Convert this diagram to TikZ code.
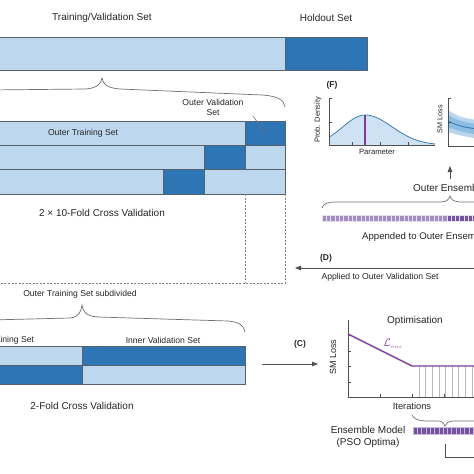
\documentclass[tikz,border=0pt]{standalone}
\usepackage{fontspec}
\setmainfont{Liberation Sans}
\usetikzlibrary{arrows.meta}
\definecolor{lightb}{HTML}{BDD7EE}
\definecolor{darkb}{HTML}{2E75B6}
\definecolor{edgec}{HTML}{56616C}
\definecolor{purp}{HTML}{7E3C98}
\definecolor{purbar}{HTML}{A18BC2}
\definecolor{purdark}{HTML}{7553A3}
\definecolor{bracec}{HTML}{707070}
\definecolor{curveb}{HTML}{3C7DB3}
\definecolor{fillb}{HTML}{CFE2F3}
\definecolor{bandout}{HTML}{B9D6EE}
\definecolor{bandin}{HTML}{8DBDE3}
\definecolor{axisc}{HTML}{505050}
\definecolor{txtc}{HTML}{262626}
\tikzset{
  cell/.style={draw=edgec, line width=1pt},
  lt/.style={cell, fill=lightb},
  dk/.style={cell, fill=darkb},
  bracepath/.style={draw=bracec, line width=0.7pt},
  axis/.style={draw=axisc, line width=0.7pt},
  dotline/.style={draw=gray, line width=0.7pt, dash pattern=on 2pt off 1.5pt},
  conn/.style={draw=axisc, line width=0.8pt, -{Triangle[length=6pt,width=4.5pt]}},
  lbl/.style={inner sep=0pt, text=txtc, font=\fontsize{10}{12}\selectfont},
  sml/.style={inner sep=0pt, text=txtc, font=\fontsize{8.6}{10}\selectfont},
  tag/.style={inner sep=0pt, text=txtc, font=\bfseries\fontsize{8.5}{10}\selectfont}
}
\begin{document}
\begin{tikzpicture}[x=1pt,y=-1pt]
\useasboundingbox (0,0) rectangle (474,474);
\clip (0,0) rectangle (474,474);
\fill[white] (0,0) rectangle (474,474);

% ---------- top bar ----------
\node[lbl] (tvs) at (102,18) {Training/Validation Set};
\node[lbl] (hos) at (326,18) {Holdout Set};
\path[lt] (-10,37) rectangle (285,70);
\path[dk] (285,37) rectangle (367,70);

% brace under top bar
\path[bracepath] (-10,90) -- (86,89) .. controls (97,88) and (101,84) .. (102,78)
  .. controls (103,84) and (107,88) .. (120,89) -- (262,95)
  .. controls (278,96) and (284,100) .. (285,107);

% ---------- 2 x 10 fold ----------
\node[sml, align=center] (ovs) at (213,107) {Outer Validation\\Set};
\path[lt] (-10,121) rectangle (245,145);
\path[dk] (245,121) rectangle (285,145);
\path[lt] (-10,145) rectangle (204,169);
\path[dk] (204,145) rectangle (245,169);
\path[lt] (245,145) rectangle (285,169);
\path[lt] (-10,169) rectangle (163,194);
\path[dk] (163,169) rectangle (204,194);
\path[lt] (204,169) rectangle (285,194);
\coordinate (ovbox) at (265,133);
\draw[bracec, line width=0.6pt] (253,116) -- (ovbox);
\node[sml] (ots) at (83,133) {Outer Training Set};
\node[lbl] (tenfold) at (102,213) {2 × 10-Fold Cross Validation};

% dashed outline
\draw[dotline] (245,194) -- (245,283);
\draw[dotline] (285,194) -- (285,283) -- (-10,283);

% ---------- inner 2-fold ----------
\node[sml] (otss) at (80,294) {Outer Training Set subdivided};
\path[bracepath] (-10,320) -- (70,318) .. controls (79,317) and (81,312) .. (82,305)
  .. controls (83,312) and (86,316) .. (98,317) -- (228,321)
  .. controls (240,322) and (244,326) .. (245,332);
\node[sml] (its) at (0,340) {Inner Training Set};
\node[sml] (ivs) at (163,340) {Inner Validation Set};
\path[lt] (-10,346) rectangle (82,365);
\path[dk] (82,346) rectangle (245,365);
\path[dk] (-10,365) rectangle (82,384);
\path[lt] (82,365) rectangle (245,384);
\node[lbl] (twofold) at (82,406) {2-Fold Cross Validation};

% arrow C
\coordinate (cstart) at (262,364);
\coordinate (cend) at (318,364);
\draw[conn] (cstart) -- (cend);
\node[tag] (ctag) at (300,344) {(C)};

% ---------- optimisation plot ----------
\node[lbl] (opt) at (415,321) {Optimisation};
\draw[axis] (348,320) -- (348,397) -- (480,397);
\foreach \yy in {335,351,366,382} \draw[axis] (348,\yy) -- (351,\yy);
\foreach \xx in {380,412,444} \draw[axis] (\xx,397) -- (\xx,394);
\foreach \i in {0,...,9} \draw[gray!55, line width=0.5pt] ({419+6.6*\i},366) -- ({419+6.6*\i},397);
\draw[purp, line width=1.4pt] (348,334) -- (412,366) -- (480,366);
\node[inner sep=0pt, text=purp] (lens) at (393,344) {\fontsize{11}{12}\selectfont$\mathcal{L}_{\scriptscriptstyle ens}$};
\node[lbl, rotate=90, font=\fontsize{9}{10}\selectfont] (smloss2) at (333,357) {SM Loss};
\node[lbl, font=\fontsize{9.3}{11}\selectfont] (iter) at (412,406) {Iterations};
\path[bracepath] (412,415) .. controls (414,419) and (418,421) .. (428,421) -- (438,421)
  .. controls (442,421) and (444,423) .. (445,426)
  .. controls (446,423) and (448,421) .. (455,421) -- (480,421);
\node[lbl, align=center] (ens) at (368,437) {Ensemble Model\\(PSO Optima)};
\fill[purdark] (413,427) rectangle (480,434);
\foreach \i in {0,...,16} \draw[purbar!60!white, line width=0.45pt] ({413+4.3*\i},427) rectangle ({417.3+4.3*\i},434);
\coordinate (lcorner) at (445,457);
\draw[axisc, line width=0.7pt] (445,444) -- (lcorner) -- (480,457);

% ---------- arrow D ----------
\coordinate (dstart) at (480,268);
\coordinate (dend) at (295,268);
\draw[conn] (dstart) -- (dend);
\node[tag] (dtag) at (326,258) {(D)};
\node[sml] (applied) at (380,277) {Applied to Outer Validation Set};

% ---------- outer ensemble ----------
\node[lbl, font=\fontsize{9.6}{11}\selectfont, anchor=west] (appended) at (362,237) {Appended to Outer Ensemble};
\fill[purbar] (322,215) rectangle (480,221);
\fill[purdark] (448,215) rectangle (480,221);
\foreach \i in {0,...,36} \draw[white!75!purbar, line width=0.4pt] ({322+4.3*\i},215) rectangle ({326.3+4.3*\i},221);
\path[bracepath] (322,208) .. controls (323,204) and (327,202) .. (336,202) -- (440,202)
  .. controls (446,202) and (449,200) .. (450,196)
  .. controls (451,200) and (454,202) .. (462,202) -- (480,202);
\node[lbl, anchor=west] (outens) at (413,188) {Outer Ensemble};
\coordinate (upstart) at (450,179);
\coordinate (upend) at (450,166);
\draw[conn] (upstart) -- (upend);

% ---------- panel F ----------
\node[tag] (ftag) at (332,85) {(F)};
\fill[fillb] (329,145) -- plot[domain=329:365, samples=30] (\x, {145-30*exp(-((\x-365)/22)^2/2)})
  -- plot[domain=365:435, samples=40] (\x, {145-30*exp(-((\x-365)/27)^2/2)}) -- (435,145) -- cycle;
\draw[curveb, line width=0.8pt] plot[domain=329:365, samples=30] (\x, {145-30*exp(-((\x-365)/22)^2/2)})
  -- plot[domain=365:435, samples=40] (\x, {145-30*exp(-((\x-365)/27)^2/2)});
\draw[purp, line width=1.4pt] (365,115) -- (365,145);
\draw[axis] (329,98) -- (329,145) -- (435,145);
\foreach \yy in {98,122} \draw[axis] (329,\yy) -- (332,\yy);
\foreach \xx in {352,380,408} \draw[axis] (\xx,145) -- (\xx,142);
\node[inner sep=0pt, text=txtc, font=\fontsize{7.5}{9}\selectfont, rotate=90] (pd) at (318,120) {Prob. Density};
\node[inner sep=0pt, text=txtc, font=\fontsize{7.7}{9}\selectfont] (param) at (377,152) {Parameter};

\fill[bandout] (448,110) .. controls (458,117) and (466,119) .. (480,120) -- (480,139) .. controls (466,137) and (458,135) .. (448,132) -- cycle;
\fill[bandin] (448,115) .. controls (458,121) and (466,123) .. (480,124) -- (480,135) .. controls (466,133) and (458,131) .. (448,127) -- cycle;
\draw[curveb, line width=0.9pt] (448,121) .. controls (458,126) and (466,128) .. (480,129);
\draw[axis] (448,98) -- (448,146) -- (480,146);
\foreach \yy in {98,122} \draw[axis] (448,\yy) -- (451,\yy);
\node[inner sep=0pt, text=txtc, font=\fontsize{7.2}{9}\selectfont, rotate=90] (sml1) at (440,119) {SM Loss};
\end{tikzpicture}
\end{document}
